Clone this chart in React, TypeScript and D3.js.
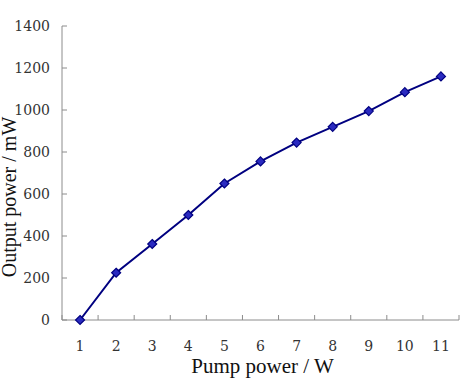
import React from "react";
import * as d3 from "d3";

const pumpPower = ["1", "2", "3", "4", "5", "6", "7", "8", "9", "10", "11"];
const outputPower = [0, 225, 362, 500, 650, 755, 845, 920, 995, 1085, 1160];
const yTicks = [0, 200, 400, 600, 800, 1000, 1200, 1400];

const W = 474;
const H = 379;
const left = 62;
const right = 459;
const top = 26;
const bottom = 320;

export default function App() {
  const x = d3.scaleBand<string>().domain(pumpPower).range([left, right]);
  const y = d3.scaleLinear().domain([0, 1400]).range([bottom, top]);
  const cx = (c: string) => (x(c) as number) + x.bandwidth() / 2;
  const line = d3
    .line<number>()
    .x((_, i) => cx(pumpPower[i]))
    .y((d) => y(d));
  const axisColor = "#8c8c8c";
  const font = "'Liberation Serif', 'DejaVu Serif', serif";
  const tickFont = "'DejaVu Serif', serif";
  const boundaries = pumpPower.map((c) => x(c) as number).concat([right]);
  return (
    <svg
      width={W}
      height={H}
      style={{ position: "absolute", left: 0, top: 0, background: "#fff" }}
      fontFamily={font}
    >
      {/* axes */}
      <line x1={left} y1={top} x2={left} y2={bottom} stroke={axisColor} strokeWidth={1} />
      <line x1={left} y1={bottom} x2={right} y2={bottom} stroke={axisColor} strokeWidth={1} />
      {yTicks.map((t) => (
        <g key={t}>
          <line x1={left} x2={left + 5} y1={y(t)} y2={y(t)} stroke={axisColor} />
          <text
            x={50}
            y={y(t)}
            dy="0.36em"
            textAnchor="end"
            fontSize={14}
            fontFamily={tickFont}
            fill="#333"
          >
            {t}
          </text>
        </g>
      ))}
      {boundaries.map((b, i) => (
        <line key={i} x1={b} x2={b} y1={bottom} y2={bottom - 5} stroke={axisColor} />
      ))}
      {pumpPower.map((c) => (
        <text
          key={c}
          x={cx(c)}
          y={351}
          textAnchor="middle"
          fontSize={14}
          fontFamily={tickFont}
          fill="#333"
        >
          {c}
        </text>
      ))}
      <text x={(left + right) / 2 + 2} y={373} textAnchor="middle" fontSize={21} fill="#111">
        Pump power / W
      </text>
      <text
        transform={`translate(15.5, 197) rotate(-90)`}
        textAnchor="middle"
        fontSize={20}
        fill="#111"
      >
        Output power / mW
      </text>
      {/* series */}
      <path d={line(outputPower) || ""} fill="none" stroke="#000080" strokeWidth={2} />
      {outputPower.map((v, i) => {
        const px = cx(pumpPower[i]);
        const py = y(v);
        const s = 4.5;
        return (
          <path
            key={i}
            d={`M${px},${py - s}L${px + s},${py}L${px},${py + s}L${px - s},${py}Z`}
            fill="#2a2ac0"
            stroke="#000080"
            strokeWidth={1.2}
          />
        );
      })}
    </svg>
  );
}
